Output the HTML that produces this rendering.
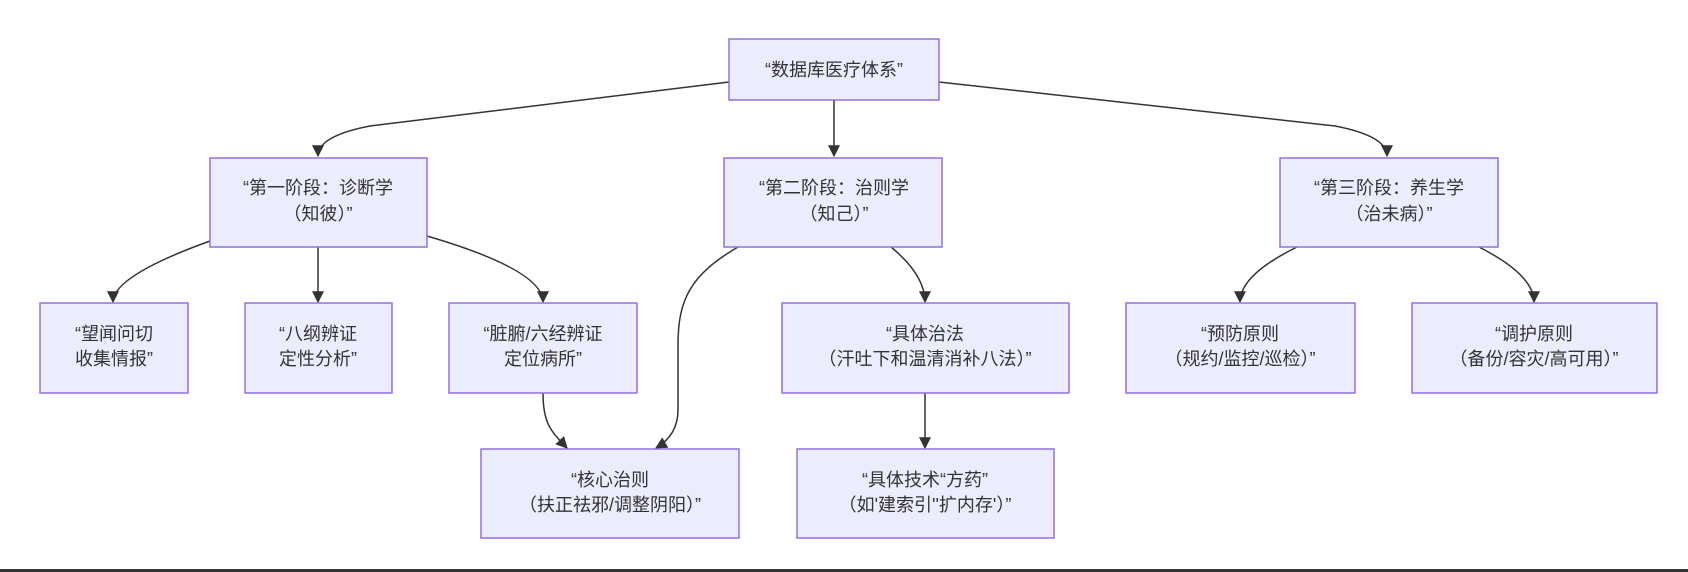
<!DOCTYPE html>
<html><head><meta charset="utf-8"><style>
html,body{margin:0;padding:0;background:#fff;}
svg{display:block;}
text{font-family:"Liberation Sans","Noto Sans CJK SC",sans-serif;font-size:18px;fill:#333;text-anchor:middle;}
.b{fill:#ECECFF;stroke:#9370DB;stroke-width:1.5;}
.e{fill:none;stroke:#333;stroke-width:1.5;}
</style></head><body>
<svg width="1688" height="572" viewBox="0 0 1688 572" xmlns="http://www.w3.org/2000/svg">
<defs><marker id="a" viewBox="0 0 10 10" refX="9" refY="5" markerWidth="8" markerHeight="8" orient="auto"><path d="M0,0 L10,5 L0,10 z" fill="#333"/></marker></defs>
<rect width="1688" height="572" fill="#fff"/>
<rect x="0" y="569" width="1688" height="3" fill="#333"/>
<!-- edges -->
<path class="e" marker-end="url(#a)" d="M834,100 L834,156"/>
<path class="e" marker-end="url(#a)" d="M729,82 L370,126 Q318,136 318,156"/>
<path class="e" marker-end="url(#a)" d="M939,82 L1335,126 Q1387,136 1387,156"/>
<path class="e" marker-end="url(#a)" d="M210,241 Q113,276 113,302"/>
<path class="e" marker-end="url(#a)" d="M318,247 L318,302"/>
<path class="e" marker-end="url(#a)" d="M427,236 Q543,270 543,302"/>
<path class="e" marker-end="url(#a)" d="M738,247 C690,275 678,300 678,345 L678,410 Q678,435 656,448"/>
<path class="e" marker-end="url(#a)" d="M543,393 C543,425 552,432 567,448"/>
<path class="e" marker-end="url(#a)" d="M891,247 Q925,275 925,302"/>
<path class="e" marker-end="url(#a)" d="M925,393 L925,448"/>
<path class="e" marker-end="url(#a)" d="M1297,247 Q1240,275 1240,302"/>
<path class="e" marker-end="url(#a)" d="M1479,247 Q1534,275 1534,302"/>
<!-- nodes -->
<rect class="b" x="729" y="39" width="210" height="61"/>
<text x="834" y="76">“数据库医疗体系”</text>

<rect class="b" x="210" y="158" width="217" height="89"/>
<text x="318" y="194">“第一阶段：诊断学</text><text x="318" y="220">（知彼）”</text>
<rect class="b" x="724" y="158" width="218" height="89"/>
<text x="834" y="194">“第二阶段：治则学</text><text x="834" y="220">（知己）”</text>
<rect class="b" x="1280" y="158" width="218" height="89"/>
<text x="1389" y="194">“第三阶段：养生学</text><text x="1389" y="220">（治未病）”</text>

<rect class="b" x="40" y="303" width="148" height="90"/>
<text x="114" y="340">“望闻问切</text><text x="114" y="365">收集情报”</text>
<rect class="b" x="245" y="303" width="147" height="90"/>
<text x="318" y="340">“八纲辨证</text><text x="318" y="365">定性分析”</text>
<rect class="b" x="449" y="303" width="188" height="90"/>
<text x="543" y="340">“脏腑/六经辨证</text><text x="543" y="365">定位病所”</text>
<rect class="b" x="782" y="303" width="287" height="90"/>
<text x="925" y="340">“具体治法</text><text x="925" y="365">（汗吐下和温清消补八法）”</text>
<rect class="b" x="1126" y="303" width="229" height="90"/>
<text x="1240" y="340">“预防原则</text><text x="1240" y="365">（规约/监控/巡检）”</text>
<rect class="b" x="1412" y="303" width="245" height="90"/>
<text x="1534" y="340">“调护原则</text><text x="1534" y="365">（备份/容灾/高可用）”</text>

<rect class="b" x="481" y="449" width="258" height="89"/>
<text x="610" y="486">“核心治则</text><text x="610" y="511">（扶正祛邪/调整阴阳）”</text>
<rect class="b" x="797" y="449" width="257" height="89"/>
<text x="925" y="486">“具体技术“方药”</text><text x="925" y="511">（如'建索引''扩内存'）”</text>
</svg>
</body></html>
